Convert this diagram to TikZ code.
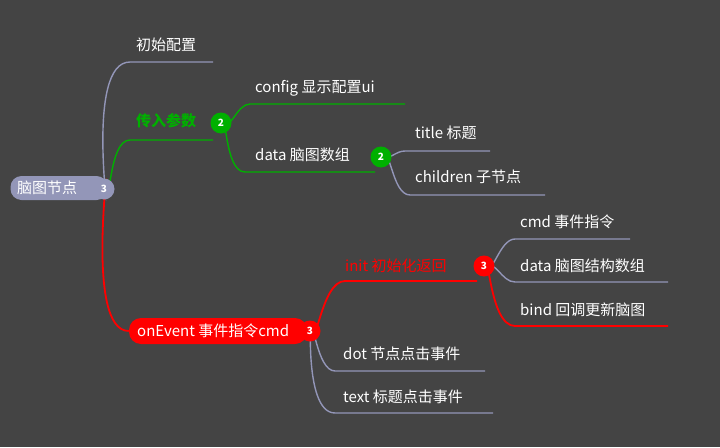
\documentclass[tikz,border=0pt]{standalone}
\usepackage{fontspec}
\setmainfont{Noto Sans CJK SC}
\begin{document}
\begin{tikzpicture}[x=1pt,y=-1pt,
  lbl/.style={anchor=west,inner sep=0pt,text=white,font=\fontsize{15}{17}\selectfont},
  badge/.style={circle,inner sep=0pt,minimum size=21pt,text=white,font=\fontsize{10}{11}\selectfont\bfseries},
  gl/.style={draw=lav,line width=1.4pt},
  grl/.style={draw=grn,line width=1.4pt},
  rl/.style={draw=red,line width=1.8pt}]
\definecolor{bg}{HTML}{444444}
\definecolor{lav}{HTML}{9396B8}
\definecolor{grn}{HTML}{00B000}
\fill[bg] (0,0) rectangle (720,447);
\coordinate (r0) at (104,189);
\coordinate (a1) at (130,62); \coordinate (a2) at (213,62);
\coordinate (b1) at (130,140); \coordinate (b2) at (213,140);
\coordinate (gb0) at (221,123);
\coordinate (eb0) at (310,331);
\coordinate (db0) at (381,157);
\coordinate (ib0) at (484,266);
\draw[gl] (r0) to[out=-80,in=180,looseness=0.9] (a1) -- (a2);
\draw[grl] (r0) to[out=-70,in=180] (b1) -- (b2);
\node[fill=red,rounded corners=12pt,minimum height=26pt,minimum width=178pt,inner sep=0pt] (ev) at (218,331) {};
\draw[rl] (r0) to[out=80,in=180,looseness=0.8] (ev.west);
\node[fill=lav,rounded corners=11pt,minimum height=24pt,minimum width=97pt,inner sep=0pt] (root) at (59,188) {};
\node[lbl] (troot) at (17,188) {脑图节点};
\node[badge,fill=lav] (rb) at (r0) {3};
\node[lbl] (ta) at (136,45) {初始配置};
\node[lbl,text=grn,font=\fontsize{15}{17}\selectfont\bfseries] (tb) at (136,121) {传入参数};
\node[lbl] (tev) at (137,331) {onEvent 事件指令cmd};
\coordinate (c1) at (250,104); \coordinate (c2) at (405,104);
\draw[grl] (gb0) to[out=-45,in=180] (c1) -- (c2);
\coordinate (d1) at (245,172); \coordinate (d2) at (375,172);
\draw[grl] (gb0) to[out=75,in=180] (d1) -- (d2);
\node[badge,fill=grn] (gb) at (gb0) {2};
\node[lbl] (tc) at (255,88) {config 显示配置ui};
\node[lbl] (td) at (255,155) {data 脑图数组};
\coordinate (e1) at (405,151); \coordinate (e2) at (490,151);
\draw[gl] (db0) to[out=-20,in=180] (e1) -- (e2);
\coordinate (f1) at (410,195); \coordinate (f2) at (545,195);
\draw[gl] (db0) to[out=60,in=180] (f1) -- (f2);
\node[badge,fill=grn] (db) at (db0) {2};
\node[lbl] (te) at (415,133) {title 标题};
\node[lbl] (tf) at (415,177) {children 子节点};
\coordinate (g1) at (345,281); \coordinate (g2) at (477,281);
\draw[rl] (eb0) to[out=-75,in=180] (g1) -- (g2);
\coordinate (k1) at (335,371); \coordinate (k2) at (485,371);
\draw[gl] (eb0) to[out=80,in=180] (k1) -- (k2);
\coordinate (l1) at (335,413); \coordinate (l2) at (493,413);
\draw[gl] (eb0) to[out=85,in=180] (l1) -- (l2);
\node[badge,fill=red] (eb) at (eb0) {3};
\node[lbl,text=red] (tg) at (345,266) {init 初始化返回};
\node[lbl] (tk) at (343,354) {dot 节点点击事件};
\node[lbl] (tl) at (343,397) {text 标题点击事件};
\coordinate (h1) at (515,239); \coordinate (h2) at (630,239);
\draw[gl] (ib0) to[out=-60,in=180] (h1) -- (h2);
\coordinate (i1) at (515,282); \coordinate (i2) at (668,282);
\draw[gl] (ib0) to[out=30,in=180] (i1) -- (i2);
\coordinate (j1) at (515,326); \coordinate (j2) at (668,326);
\draw[rl] (ib0) to[out=80,in=180] (j1) -- (j2);
\node[badge,fill=red] (ib) at (ib0) {3};
\node[lbl] (th) at (520,222) {cmd 事件指令};
\node[lbl] (ti) at (520,266) {data 脑图结构数组};
\node[lbl] (tj) at (520,310) {bind 回调更新脑图};
\end{tikzpicture}
\end{document}
